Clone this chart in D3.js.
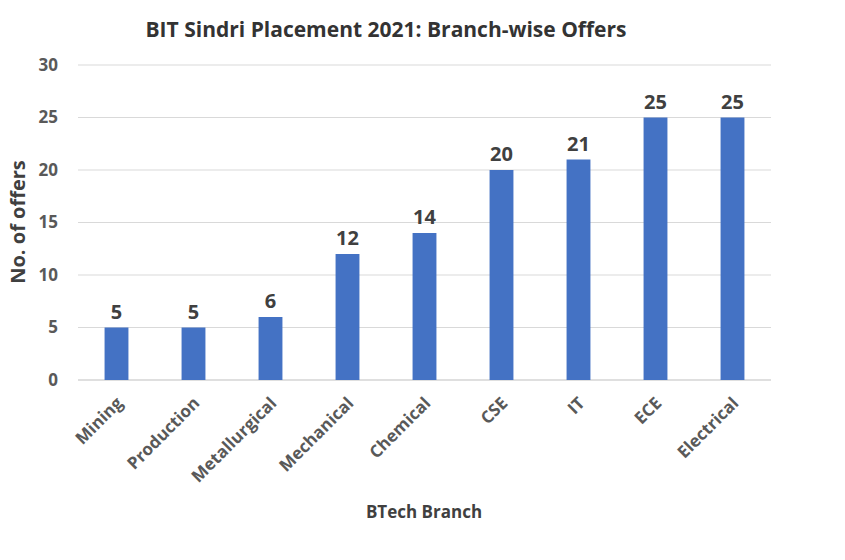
<!DOCTYPE html>
<html><head><meta charset="utf-8">
<script src="https://cdn.jsdelivr.net/npm/d3@7"></script>
<style>body{margin:0;background:#fff}svg{font-family:"Open Sans",Calibri,sans-serif}</style>
</head><body><svg id="c" width="845" height="560"></svg>
<script>
const categories=["Mining","Production","Metallurgical","Mechanical","Chemical","CSE","IT","ECE","Electrical"];
const offers=[5,5,6,12,14,20,21,25,25];
const yTicks=[0,5,10,15,20,25,30];
const svg=d3.select("#c");
const x=d3.scaleBand().domain(categories).range([78,771]).paddingInner(0.69).paddingOuter(0.345);
const y=d3.scaleLinear().domain([0,30]).range([380,65]);
const g=svg.append("g");
g.selectAll("line.grid").data(yTicks).join("line").attr("x1",78).attr("x2",771)
 .attr("y1",d=>y(d)).attr("y2",d=>y(d)).attr("stroke",d=>d===0?"#bfbfbf":"#d9d9d9").attr("stroke-width",1);
const ya=svg.append("g").attr("transform","translate(78,0)").call(d3.axisLeft(y).tickValues(yTicks).tickSize(0).tickPadding(20));
ya.select(".domain").remove();
ya.selectAll("text").attr("font-size",17).attr("font-weight","bold").attr("fill","#595959").attr("font-family","Open Sans");
g.selectAll("rect").data(offers).join("rect").attr("x",(d,i)=>x(categories[i])).attr("width",x.bandwidth())
 .attr("y",d=>y(d)).attr("height",d=>y(0)-y(d)).attr("fill","#4472C4");
g.selectAll("text.v").data(offers).join("text").attr("x",(d,i)=>x(categories[i])+x.bandwidth()/2).attr("y",d=>y(d)-9)
 .attr("text-anchor","middle").attr("font-size",20).attr("font-weight","bold").attr("fill","#404040").text(d=>d);
const xa=svg.append("g").attr("transform","translate(0,380)").call(d3.axisBottom(x).tickSize(0));
xa.select(".domain").remove();
xa.selectAll("text").attr("font-size",17).attr("font-weight","bold").attr("fill","#595959").attr("font-family","Open Sans")
 .attr("text-anchor","end").attr("transform","translate(3,20) rotate(-45)").attr("dy","0.35em").attr("y",0);
svg.append("text").attr("x",386).attr("y",37).attr("text-anchor","middle").attr("font-size",21).attr("font-weight","bold").attr("fill","#333").text("BIT Sindri Placement 2021: Branch-wise Offers");
svg.append("text").attr("transform","translate(25,222) rotate(-90)").attr("text-anchor","middle").attr("font-size",20).attr("font-weight","bold").attr("fill","#404040").text("No. of offers");
svg.append("text").attr("x",424).attr("y",518).attr("text-anchor","middle").attr("font-size",17).attr("font-weight","bold").attr("fill","#404040").text("BTech Branch");
</script></body></html>
